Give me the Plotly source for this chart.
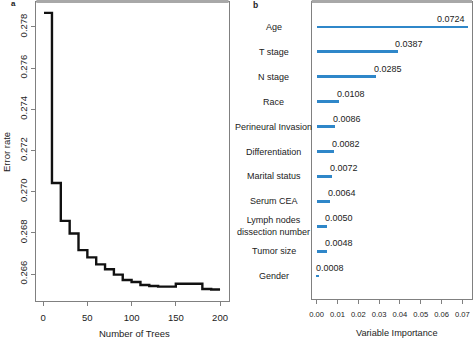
import plotly.graph_objects as go

# ---- data ----
trees = [1, 10, 20, 30, 40, 50, 60, 70, 80, 90, 100, 110, 120, 130, 140, 150, 160, 170, 180, 190, 200]
error_rate = [0.27868, 0.27042, 0.26858, 0.26797, 0.26716, 0.26681, 0.26647, 0.26623, 0.26597, 0.26571,
              0.26561, 0.26547, 0.26542, 0.26539, 0.26539, 0.26553, 0.26553, 0.26553, 0.26527, 0.26525, 0.26525]

variables = ["Age", "T stage", "N stage", "Race", "Perineural Invasion", "Differentiation",
             "Marital status", "Serum CEA", "Lymph nodes<br>dissection number", "Tumor size", "Gender"]
importance = [0.0724, 0.0387, 0.0285, 0.0108, 0.0086, 0.0082, 0.0072, 0.0064, 0.0050, 0.0048, 0.0008]
importance_labels = ["0.0724", "0.0387", "0.0285", "0.0108", "0.0086", "0.0082",
                     "0.0072", "0.0064", "0.0050", "0.0048", "0.0008"]

left_yticks = [0.266, 0.268, 0.270, 0.272, 0.274, 0.276, 0.278]
left_xticks = [0, 50, 100, 150, 200]
right_xticks = [0.00, 0.01, 0.02, 0.03, 0.04, 0.05, 0.06, 0.07]

W, H = 474, 339
FONT = "Liberation Sans, Arial, sans-serif"
TXT = "#222222"
BLUE = "#2f87c9"
BOX = "#808080"

fig = go.Figure()

fig.add_trace(go.Scatter(x=trees, y=error_rate, mode="lines", line=dict(shape="hv", color="#111111", width=2.4),
                         xaxis="x", yaxis="y", showlegend=False, hoverinfo="skip"))

cats_bottom_up = variables[::-1]
fig.add_trace(go.Bar(x=importance, y=variables, orientation="h", width=0.11,
                     marker=dict(color=BLUE, line=dict(width=0)),
                     xaxis="x2", yaxis="y2", showlegend=False, hoverinfo="skip"))

# domains (paper fractions)
lx0, lx1 = 34.5 / W, 227.5 / W
ly0, ly1 = 1 - 301 / H, 1 - 2 / H
rx0, rx1 = 311 / W, 472 / W
ry0, ry1 = 1 - 299 / H, 1 - 2 / H

axis_common = dict(showline=True, mirror=True, linecolor=BOX, linewidth=1, showgrid=False, zeroline=False,
                   ticks="outside", ticklen=4, tickcolor=BOX, tickwidth=1)

fig.update_layout(
    width=W, height=H, margin=dict(l=0, r=0, t=0, b=0),
    paper_bgcolor="white", plot_bgcolor="white",
    font=dict(family=FONT, color=TXT, size=9),
    bargap=0,
    xaxis=dict(domain=[lx0, lx1], range=[-7.65, 209.6], tickvals=left_xticks, anchor="y",
               tickfont=dict(size=9.5), ticklabelstandoff=4, **axis_common),
    yaxis=dict(domain=[ly0, ly1], range=[0.26469, 0.27921], tickvals=left_yticks, anchor="x",
               tickformat=".3f", tickangle=-90, tickfont=dict(size=9.5), ticklabelstandoff=1, **axis_common),
    xaxis2=dict(domain=[rx0, rx1], range=[-0.00239, 0.07464], tickvals=right_xticks, tickformat=".2f",
                anchor="y2", tickfont=dict(size=7.6), ticklabelstandoff=4, **axis_common),
    yaxis2=dict(domain=[ry0, ry1], range=[-0.92, 11.0], type="category", categoryorder="array",
                categoryarray=cats_bottom_up, showticklabels=False, anchor="x2",
                showline=True, mirror=True, linecolor=BOX, linewidth=1, showgrid=False, zeroline=False, ticks=""),
)

ann = []
# axis titles
ann.append(dict(text="Number of Trees", x=(lx0 + lx1) / 2 + 2 / W, y=1 - 333 / H, xref="paper", yref="paper",
                showarrow=False, font=dict(size=9.5), xanchor="center", yanchor="middle"))
ann.append(dict(text="Error rate", x=4.5 / W, y=(ly0 + ly1) / 2, xref="paper", yref="paper", textangle=-90,
                showarrow=False, font=dict(size=9.5), xanchor="center", yanchor="middle"))
ann.append(dict(text="Variable Importance", x=397 / W, y=1 - 333 / H, xref="paper", yref="paper",
                showarrow=False, font=dict(size=9.2), xanchor="center", yanchor="middle"))
# panel letters
ann.append(dict(text="<b>a</b>", x=12 / W, y=1 - 4 / H, xref="paper", yref="paper", showarrow=False,
                font=dict(size=8), xanchor="center", yanchor="middle"))
ann.append(dict(text="<b>b</b>", x=255 / W, y=1 - 5 / H, xref="paper", yref="paper", showarrow=False,
                font=dict(size=8.5), xanchor="center", yanchor="middle"))

# category labels (centred, as in the reference)
for v in variables:
    ann.append(dict(text=v, x=273 / W, y=v, xref="paper", yref="y2", showarrow=False,
                    font=dict(size=9), xanchor="center", yanchor="middle", align="center"))

# value labels
vmax = max(importance)
for v, val, lab in zip(variables, importance, importance_labels):
    if val > 0.9 * vmax:
        ann.append(dict(text=lab, x=val, y=v, xref="x2", yref="y2", showarrow=False, font=dict(size=9),
                        xanchor="right", yanchor="middle", yshift=8, xshift=0))
    else:
        ann.append(dict(text=lab, x=val, y=v, xref="x2", yref="y2", showarrow=False, font=dict(size=9),
                        xanchor="left", yanchor="middle", yshift=8, xshift=-4))

fig.update_layout(annotations=ann)

# thicker grey top edge on each panel
for x0, x1 in [(lx0, lx1), (rx0, rx1)]:
    fig.add_shape(type="line", xref="paper", yref="paper", x0=x0, x1=x1, y0=ly1 + 0.5 / H, y1=ly1 + 0.5 / H,
                  line=dict(color="#a8a8a8", width=3))

fig.write_html("out.html")
